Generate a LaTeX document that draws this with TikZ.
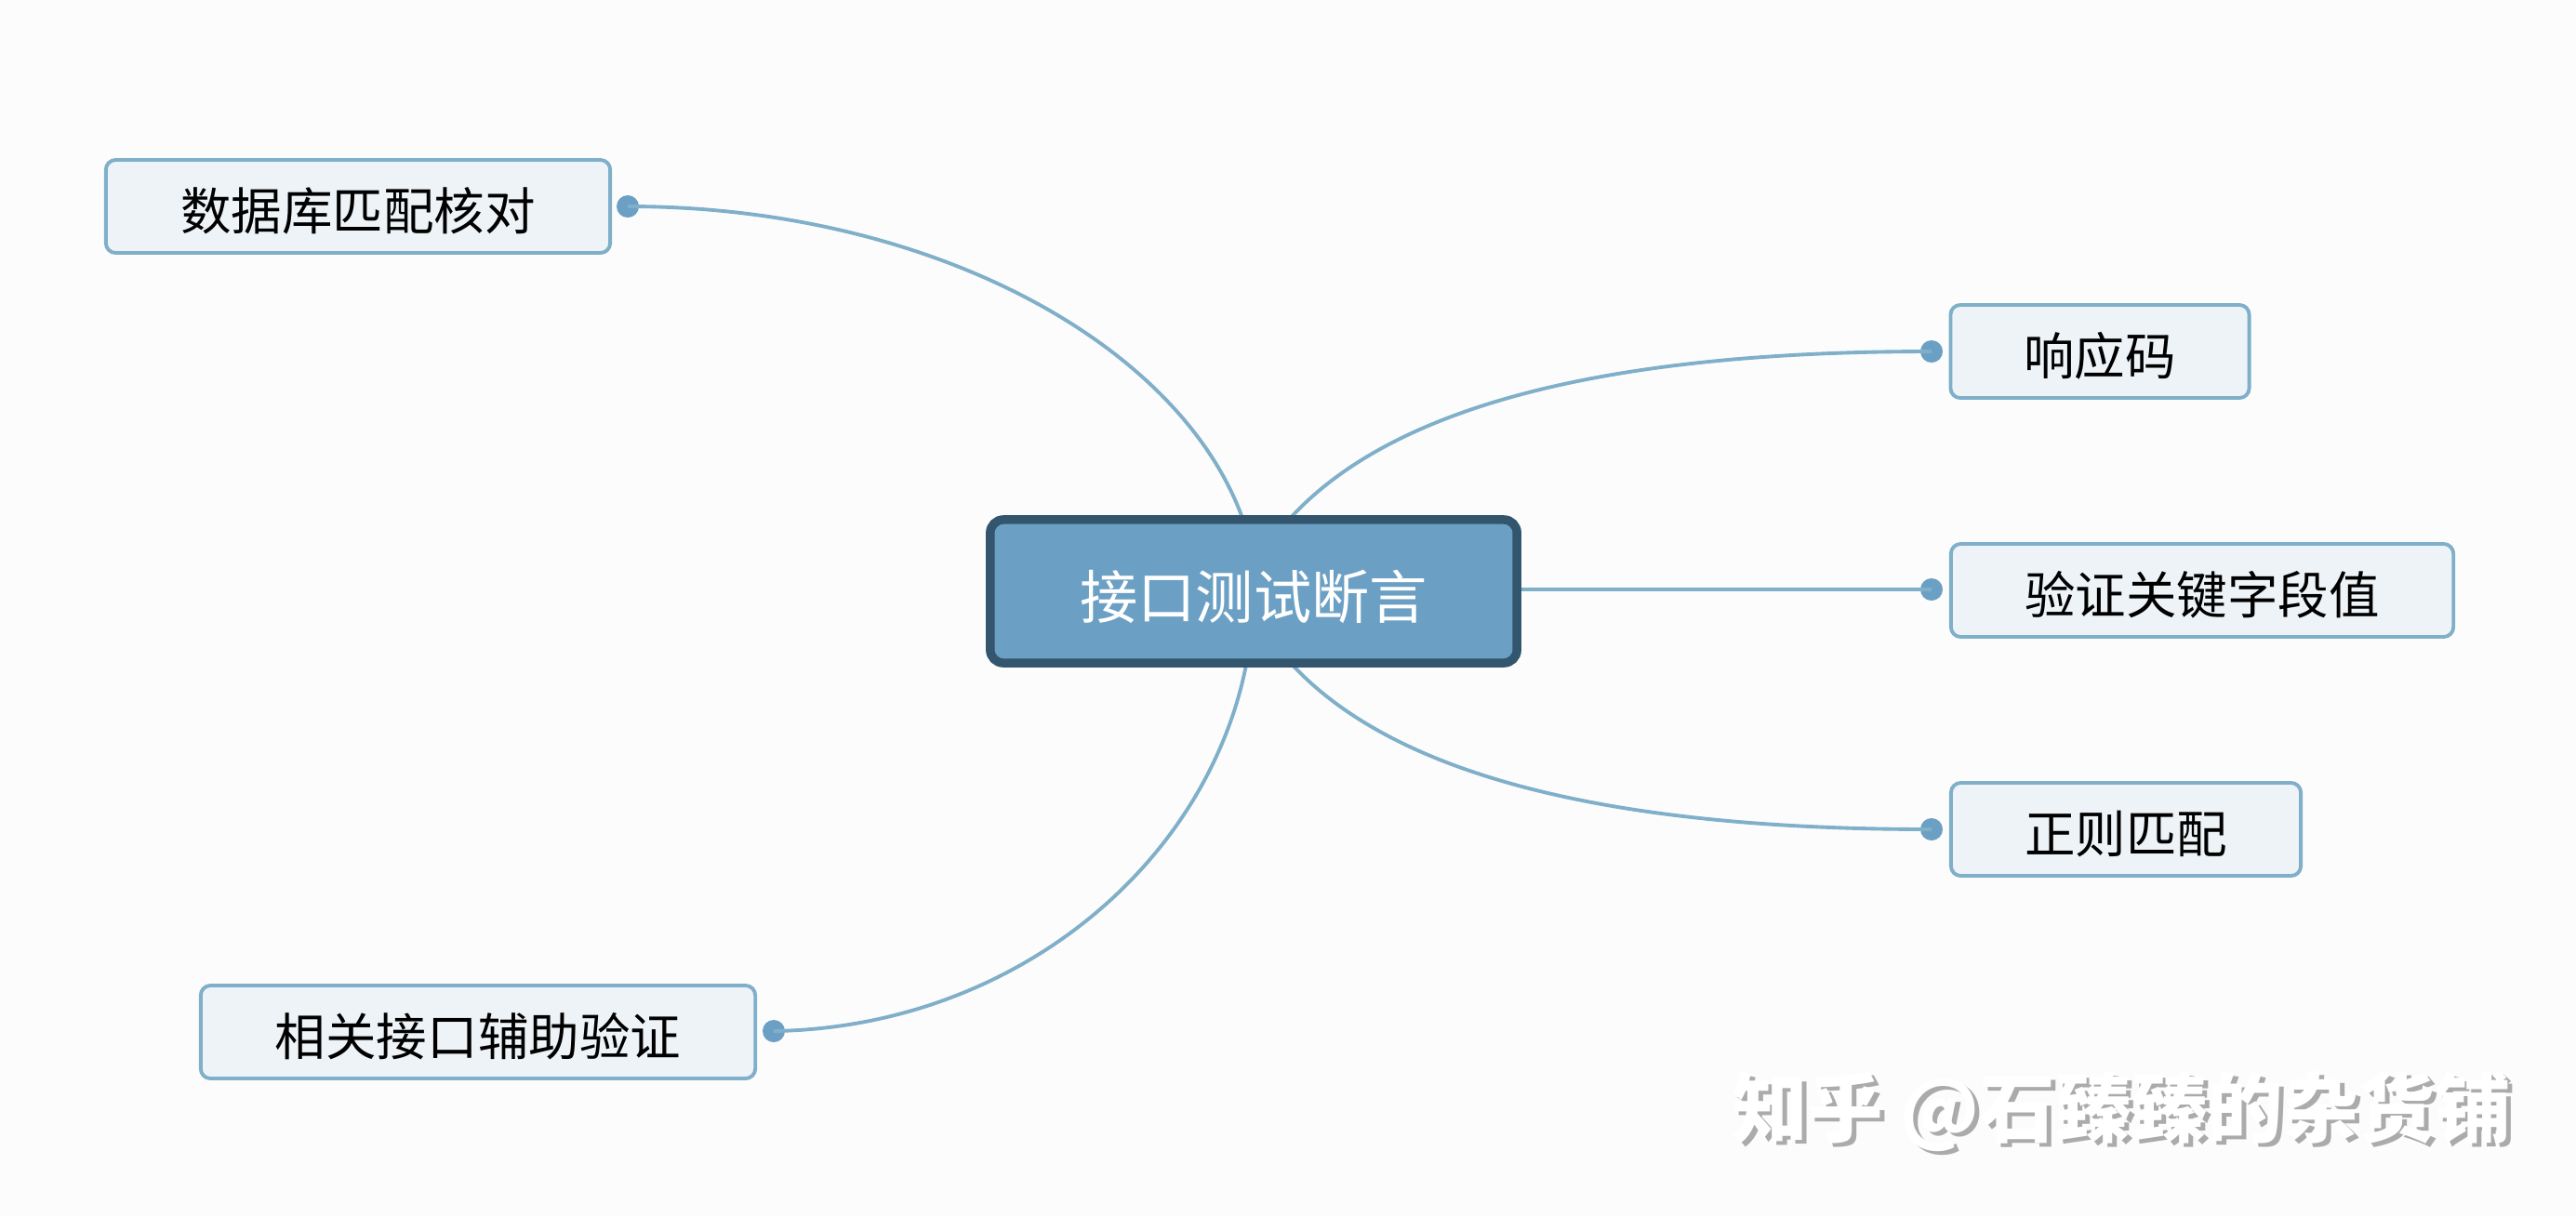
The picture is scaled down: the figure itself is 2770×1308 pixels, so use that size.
\documentclass[tikz,border=0pt]{standalone}
\usepackage{fontspec}
\setmainfont{Noto Sans CJK SC}
\definecolor{bgcol}{HTML}{FCFCFC}
\definecolor{hubfill}{HTML}{6BA0C4}
\definecolor{hubline}{HTML}{33566E}
\definecolor{leaffill}{HTML}{EDF3F7}
\definecolor{leafline}{HTML}{7FAFC9}
\tikzstyle{hubbox} = [draw=hubline, fill=hubfill, line width=2.7pt, rectangle, rounded corners=4pt, text=white, font=\fontsize{17.7}{20}\selectfont, text height=17pt, text depth=0pt, minimum width=5.66cm, minimum height=1.54cm, inner sep=0pt]
\tikzstyle{leafbox} = [draw=leafline, fill=leaffill, line width=1.1pt, rectangle, rounded corners=3pt, text=black, font=\fontsize{15.5}{18}\selectfont, text height=14.5pt, text depth=0pt, minimum height=1cm, inner sep=0pt]
\tikzstyle{dotnode} = [circle, fill=hubfill, minimum size=0.24cm, inner sep=0pt]
\tikzstyle{curveline} = [draw=leafline, line width=1.1pt]
\tikzstyle{marktext} = [font=\fontsize{23.2}{26}\selectfont\bfseries, inner sep=0pt]

\begin{document}
\begin{tikzpicture}[x=0.01cm, y=-0.01cm]
\fill[bgcol] (0,0) rectangle (2770,1308);
\useasboundingbox (0,0) rectangle (2770,1308);
\node [marktext, text=black!33] (markshadow) at (2286,1199) {知乎 @石臻臻的杂货铺};
\node [marktext, text=white] (markfront) at (2281,1195) {知乎 @石臻臻的杂货铺};
\node [dotnode] (dbdot) at (675,222) {};
\node [dotnode] (codedot) at (2077,378) {};
\node [dotnode] (fielddot) at (2077,634) {};
\node [dotnode] (regexdot) at (2077,892) {};
\node [dotnode] (relatedot) at (832,1109) {};
\draw [curveline] (dbdot.center) .. controls (1000,222) and (1270,370) .. (1337,560);
\draw [curveline] (codedot.center) .. controls (1780,378) and (1510,420) .. (1385,560);
\draw [curveline] (fielddot.center) -- (1600,634);
\draw [curveline] (regexdot.center) .. controls (1780,892) and (1510,850) .. (1385,710);
\draw [curveline] (relatedot.center) .. controls (1090,1105) and (1300,930) .. (1341,710);
\node [hubbox] (hub) at (1348,636) {接口测试断言};
\node [leafbox, minimum width=5.42cm] (db) at (385,222) {数据库匹配核对};
\node [leafbox, minimum width=3.21cm] (code) at (2258,378) {响应码};
\node [leafbox, minimum width=5.4cm] (field) at (2368,635) {验证关键字段值};
\node [leafbox, minimum width=3.76cm] (regex) at (2286,892) {正则匹配};
\node [leafbox, minimum width=5.96cm] (relate) at (514,1110) {相关接口辅助验证};
\end{tikzpicture}
\end{document}
